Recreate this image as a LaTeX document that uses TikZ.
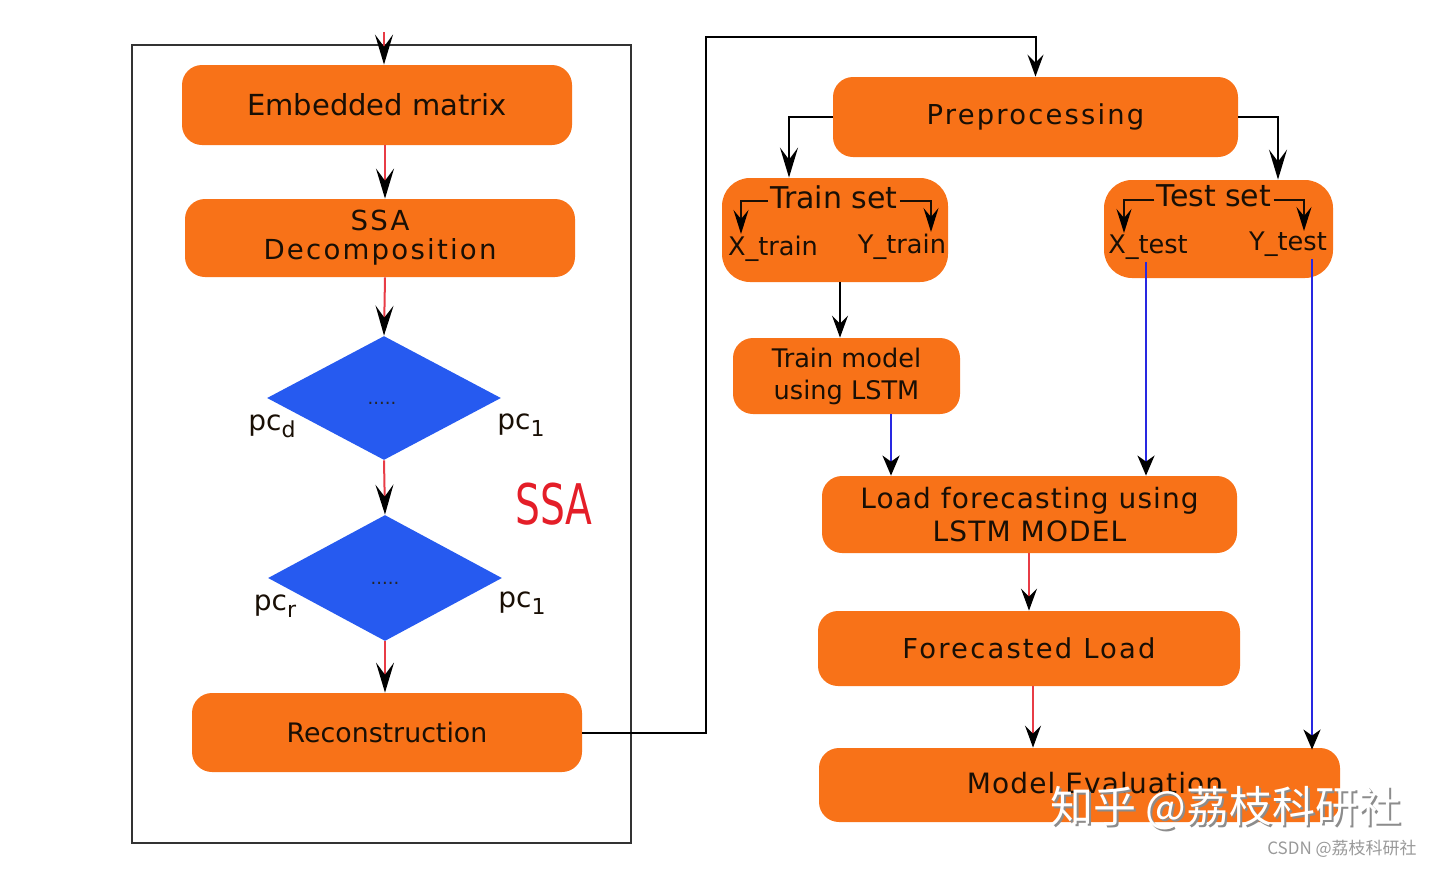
\documentclass[tikz,border=0pt]{standalone}
\usepackage{fontspec}
\setmainfont{DejaVu Sans}
\newfontfamily\spacedA[LetterSpace=8]{DejaVu Sans}
\newfontfamily\spacedB[LetterSpace=4]{DejaVu Sans}
\newfontfamily\cjk{Noto Sans CJK SC}
\usetikzlibrary{arrows.meta,shapes.geometric}
\definecolor{orb}{RGB}{248,114,24}
\definecolor{dblue}{RGB}{38,90,240}
\definecolor{lblue}{RGB}{40,40,225}
\definecolor{arred}{RGB}{232,60,70}
\definecolor{ssared}{RGB}{228,30,40}
\definecolor{txt}{RGB}{25,15,5}
\begin{document}
\begin{tikzpicture}[x=0.5pt,y=-0.5pt,
  box/.style={fill=orb, rounded corners=10pt, inner sep=0pt, align=center, text=txt},
  dia/.style={diamond, fill=dblue, inner sep=0pt},
  lbl/.style={inner sep=1pt, text=txt},
  tipl/.style={-{Stealth[length=15pt,width=9pt,inset=6pt,color=black]}},
  tipm/.style={-{Stealth[length=11pt,width=8pt,inset=4pt,color=black]}},
  tips/.style={-{Stealth[length=10pt,width=8.5pt,inset=3pt,color=black]}},
  redarr/.style={draw=arred, line width=1pt, tipl},
  redarrm/.style={draw=arred, line width=1pt, tipm},
  blkarr/.style={draw=black, line width=1pt, tipl},
  blkarrm/.style={draw=black, line width=1pt, tipm},
  bluarr/.style={draw=lblue, line width=1pt, tips},
  inarr/.style={draw=txt, line width=0.8pt, -{Stealth[length=12pt,width=7.5pt,inset=4.5pt,color=black]}},
  frame/.style={draw=black!80, line width=0.9pt}
]
\path[use as bounding box] (0,0) rectangle (1440,868);

% frame around SSA part
\draw[frame] (132,45) rectangle (631,843);

% left column
\node[box, minimum width=195pt, minimum height=40pt, font=\fontsize{14.5}{17}\selectfont] (emb) at (377,105) {Embedded matrix};
\node[box, minimum width=195pt, minimum height=39pt, font=\spacedA\fontsize{13.8}{14.5}\selectfont] (ssa) at (380,238) {SSA\\Decomposition};
\node[dia, minimum width=117pt, minimum height=62pt] (d1) at (384,398) {};
\node[dia, minimum width=117pt, minimum height=63pt] (d2) at (385,578) {};
\node[font=\fontsize{9}{10}\selectfont, inner sep=0pt, text=black!85] (dots1) at (382,403) {.....};
\node[font=\fontsize{9}{10}\selectfont, inner sep=0pt, text=black!85] (dots2) at (385,583) {.....};
\node[box, minimum width=195pt, minimum height=39.5pt, font=\fontsize{13.4}{16}\selectfont] (rec) at (387,732.5) {Reconstruction};

\node[lbl, font=\fontsize{14}{16}\selectfont] (pcd) at (272,426) {pc\raisebox{-0.45ex}{\fontsize{11}{12}\selectfont d}};
\node[lbl, font=\fontsize{14}{16}\selectfont] (pc1a) at (521,425) {pc\raisebox{-0.45ex}{\fontsize{11}{12}\selectfont 1}};
\node[lbl, font=\fontsize{14}{16}\selectfont] (pcr) at (275,606) {pc\raisebox{-0.45ex}{\fontsize{11}{12}\selectfont r}};
\node[lbl, font=\fontsize{14}{16}\selectfont] (pc1b) at (522,603) {pc\raisebox{-0.45ex}{\fontsize{11}{12}\selectfont 1}};

\node[text=ssared, font=\fontsize{28}{30}\selectfont, xscale=0.7, inner sep=0pt] (ssalbl) at (554,504) {SSA};

\coordinate (colx) at (385,0);
\coordinate (in) at (384,32);
\draw[redarr] (in) -- (emb.north -| in);
\draw[redarr] (emb.south -| colx) -- (ssa.north -| colx);
\draw[redarr] (ssa.south -| colx) -- (d1.north);
\draw[redarr] (d1.south) -- (d2.north);
\draw[redarr] (d2.south) -- (rec.north -| d2.south);

% right part
\node[box, minimum width=202.5pt, minimum height=40pt, font=\spacedA\fontsize{13.7}{16}\selectfont] (pre) at (1035.5,117) {Preprocessing};
\node[box, rounded corners=14pt, minimum width=113pt, minimum height=52pt] (trn) at (835,230) {};
\node[box, rounded corners=14pt, minimum width=114.5pt, minimum height=49pt] (tst) at (1218.5,229) {};
\node[box, minimum width=113.5pt, minimum height=38pt, font=\fontsize{12.8}{16}\selectfont] (tm) at (846.5,376) {Train model\\using LSTM};
\node[box, minimum width=207.5pt, minimum height=38.5pt, font=\spacedB\fontsize{14}{16.5}\selectfont] (lf) at (1029.5,514.5) {Load forecasting using\\LSTM MODEL};
\node[box, minimum width=211pt, minimum height=37.5pt, font=\spacedA\fontsize{13.7}{16}\selectfont] (fl) at (1029,648.5) {Forecasted Load};
\node[box, minimum width=260.5pt, minimum height=37pt] (me) at (1079.5,785) {};
\node[lbl, font=\spacedB\fontsize{14}{16}\selectfont] (metxt) at (1095,783) {Model Evaluation};

% labels inside train / test set
\node[lbl, font=\fontsize{15}{17}\selectfont] (trs) at (834,197) {Train set};
\node[lbl, font=\fontsize{12.8}{15}\selectfont] (xtr) at (773,249) {X\_train};
\node[lbl, font=\fontsize{12.8}{15}\selectfont] (ytr) at (902,247) {Y\_train};
\node[lbl, font=\fontsize{15}{17}\selectfont] (tss) at (1214,196) {Test set};
\node[lbl, font=\fontsize{12.8}{15}\selectfont] (xts) at (1148,247) {X\_test};
\node[lbl, font=\fontsize{12.8}{15}\selectfont] (yts) at (1288,244) {Y\_test};

\coordinate (ta) at (741,234);
\coordinate (tb) at (931,232);
\coordinate (tc) at (1124,233);
\coordinate (td) at (1304,231);
\draw[inarr] ([yshift=-2pt]trs.west) -| (ta);
\draw[inarr] ([yshift=-2pt]trs.east) -| (tb);
\draw[inarr] ([yshift=-2pt]tss.west) -| (tc);
\draw[inarr] ([yshift=-2pt]tss.east) -| (td);

% connectors right part
\coordinate (up) at (706,37);
\draw[blkarrm] (rec.east) -| (up) -| (pre.north);
\coordinate (xa) at (789,0);
\coordinate (xb) at (1278,0);
\coordinate (xc) at (840,0);
\coordinate (xd) at (891,0);
\coordinate (xe) at (1146,0);
\coordinate (xf) at (1312,0);
\draw[blkarr] (pre.west) -| (trn.north -| xa);
\draw[blkarr] (pre.east) -| (tst.north -| xb);
\draw[blkarrm] (trn.south -| xc) -- (tm.north -| xc);
\draw[bluarr] (tm.south -| xd) -- (lf.north -| xd);
\draw[bluarr] (xts.south -| xe) -- (lf.north -| xe);
\draw[bluarr] (yts.south -| xf) -- ([yshift=-1pt]me.north -| xf);
\coordinate (xh) at (1029,0);
\draw[redarrm] (lf.south -| xh) -- (fl.north -| xh);
\coordinate (xg) at (1033,0);
\draw[redarrm] (fl.south -| xg) -- (me.north -| xg);

% watermark
\node[text=black!45, font=\cjk\fontsize{21.5}{24}\selectfont, inner sep=0pt] (wm0) at (1228,810) {知乎 @荔枝科研社};
\node[text=white, font=\cjk\fontsize{21.5}{24}\selectfont, inner sep=0pt] (wm) at (1226,808) {知乎 @荔枝科研社};
\node[text=black!40, font=\cjk\fontsize{8.5}{10}\selectfont, inner sep=0pt] (csdn) at (1342,849) {CSDN @荔枝科研社};
\end{tikzpicture}
\end{document}
